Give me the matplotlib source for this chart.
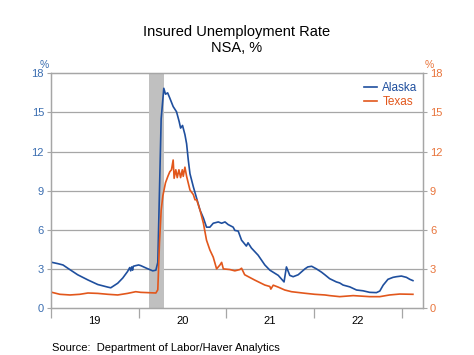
import numpy as np
import pandas as pd
import matplotlib
matplotlib.use("Agg")
import matplotlib.pyplot as plt
import matplotlib.dates as mdates

plt.rcParams['font.family'] = ['Liberation Sans', 'DejaVu Sans']

alaska_dates = ["2019-01-05", "2019-01-30", "2019-02-20", "2019-03-12", "2019-04-22", "2019-06-04",
                "2019-07-15", "2019-08-26", "2019-09-07", "2019-10-06", "2019-10-27", "2019-11-16",
                "2019-11-25", "2019-11-29", "2019-12-03", "2019-12-07", "2019-12-10", "2019-12-20",
                "2020-01-01", "2020-01-10", "2020-02-03", "2020-02-29", "2020-03-13", "2020-03-21",
                "2020-03-28", "2020-04-04", "2020-04-15", "2020-04-22", "2020-05-01", "2020-05-10",
                "2020-05-24", "2020-06-07", "2020-06-18", "2020-06-24", "2020-07-02", "2020-07-12",
                "2020-07-19", "2020-07-26", "2020-08-02", "2020-08-16", "2020-08-30", "2020-09-13",
                "2020-09-27", "2020-10-10", "2020-10-24", "2020-11-07", "2020-11-28", "2020-12-12",
                "2020-12-26", "2021-01-08", "2021-01-29", "2021-02-05", "2021-02-19", "2021-03-05",
                "2021-03-14", "2021-03-25", "2021-04-01", "2021-04-15", "2021-05-13", "2021-06-10",
                "2021-07-01", "2021-08-05", "2021-08-29", "2021-09-08", "2021-09-22", "2021-10-06",
                "2021-10-27", "2021-11-24", "2021-12-06", "2021-12-22", "2022-01-11", "2022-02-01",
                "2022-02-15", "2022-03-07", "2022-04-04", "2022-04-18", "2022-05-02", "2022-05-30",
                "2022-06-27", "2022-07-24", "2022-08-21", "2022-09-18", "2022-10-02", "2022-10-16",
                "2022-11-05", "2022-11-26", "2022-12-10", "2022-12-31", "2023-01-21", "2023-02-04",
                "2023-02-17"]
alaska = [3.5, 3.4, 3.3, 3.05, 2.55, 2.15,
          1.8, 1.6, 1.55, 1.9, 2.3, 2.8,
          3.1, 2.85, 3.15, 2.9, 3.2, 3.25,
          3.3, 3.25, 3.05, 2.85, 2.9, 3.5,
          9.0, 14.5, 16.85, 16.4, 16.5, 16.1,
          15.45, 15.05, 14.3, 13.8, 14.0, 13.3,
          12.6, 11.35, 10.3, 9.3, 8.4, 7.5,
          6.9, 6.2, 6.2, 6.5, 6.6, 6.5,
          6.6, 6.4, 6.2, 5.95, 5.9, 5.2,
          5.0, 4.75, 5.0, 4.6, 4.05, 3.3,
          2.9, 2.5, 2.0, 3.15, 2.5, 2.4,
          2.55, 3.0, 3.15, 3.2, 3.0, 2.75,
          2.55, 2.25, 2.0, 1.92, 1.76, 1.62,
          1.38, 1.32, 1.2, 1.18, 1.3, 1.75,
          2.2, 2.35, 2.4, 2.45, 2.35, 2.2,
          2.1]

texas_dates = ["2019-01-05", "2019-02-07", "2019-03-21", "2019-05-01", "2019-06-04", "2019-07-15",
               "2019-08-26", "2019-10-06", "2019-11-16", "2019-12-07", "2019-12-20", "2020-01-10",
               "2020-02-06", "2020-03-13", "2020-03-21", "2020-03-28", "2020-04-04", "2020-04-11",
               "2020-04-22", "2020-05-02", "2020-05-10", "2020-05-17", "2020-05-24", "2020-05-28",
               "2020-06-04", "2020-06-10", "2020-06-17", "2020-06-24", "2020-07-01", "2020-07-05",
               "2020-07-12", "2020-07-19", "2020-08-02", "2020-08-16", "2020-08-23", "2020-08-30",
               "2020-09-13", "2020-09-27", "2020-10-10", "2020-10-24", "2020-11-07", "2020-11-21",
               "2020-12-05", "2020-12-12", "2020-12-19", "2021-01-15", "2021-02-05", "2021-02-26",
               "2021-03-05", "2021-03-18", "2021-04-28", "2021-06-10", "2021-07-01", "2021-07-05",
               "2021-07-15", "2021-08-05", "2021-09-01", "2021-09-29", "2021-11-24", "2022-01-04",
               "2022-02-15", "2022-03-07", "2022-04-18", "2022-06-13", "2022-08-21", "2022-10-02",
               "2022-11-12", "2022-12-24", "2023-02-17"]
texas = [1.2, 1.05, 1.0, 1.05, 1.15, 1.12,
         1.05, 1.0, 1.12, 1.2, 1.25, 1.2,
         1.18, 1.15, 1.4, 5.0, 7.5, 8.6,
         9.6, 10.1, 10.45, 10.6, 11.35, 9.95,
         10.6, 10.0, 10.6, 10.0, 10.6, 10.1,
         10.8, 10.1, 9.05, 8.7, 8.3, 8.3,
         7.5, 6.5, 5.2, 4.45, 3.9, 3.0,
         3.3, 3.5, 3.0, 2.95, 2.85, 2.95,
         3.05, 2.55, 2.15, 1.76, 1.65, 1.45,
         1.75, 1.6, 1.38, 1.25, 1.13, 1.05,
         1.0, 0.95, 0.87, 0.95, 0.87, 0.87,
         1.0, 1.07, 1.05]

recession = ("2020-02-15", "2020-04-15")
year_labels = ["19", "20", "21", "22"]

blue = "#1f4f9e"
orange = "#e2571c"
blue_txt = "#3a6db0"
orange_txt = "#e8743b"
gray = "#a6a6a6"

fig = plt.figure(figsize=(4.74, 3.55), dpi=100)
ax = fig.add_axes([0.1076, 0.1324, 0.7848, 0.6611])
ax2 = ax.twinx()

ax.axvspan(pd.Timestamp(recession[0]), pd.Timestamp(recession[1]), color="#c0c0c0", lw=0, zorder=1)
for v in range(3, 18, 3):
    ax.axhline(v, color=gray, lw=0.9, zorder=0)

ax.plot(pd.to_datetime(alaska_dates), alaska, color=blue, lw=1.2, label="Alaska", zorder=3)
ax.plot(pd.to_datetime(texas_dates), texas, color=orange, lw=1.2, label="Texas", zorder=3)

xmin, xmax = pd.Timestamp("2019-01-01"), pd.Timestamp("2023-03-31")
ax.set_xlim(xmin, xmax)
ax.set_ylim(0, 18)
ax2.set_ylim(0, 18)
ax.set_yticks(range(0, 19, 3))
ax2.set_yticks(range(0, 19, 3))

# year boundary ticks, labels at mid-year
ax.set_xticks([pd.Timestamp(f"{y}-01-01") for y in range(2019, 2024)])
ax.set_xticklabels([])
ax.set_xticks([pd.Timestamp(f"20{y}-07-01") for y in year_labels], minor=True)
ax.set_xticklabels(year_labels, minor=True)
ax.tick_params(axis="x", which="major", length=7, width=0.9, color=gray, direction="out")
ax.tick_params(axis="x", which="minor", length=0, labelsize=8, pad=6)

ax.tick_params(axis="y", length=3, color=gray, labelsize=8, labelcolor=blue_txt, pad=2)
ax2.tick_params(axis="y", length=3, color=gray, labelsize=8, labelcolor=orange_txt, pad=2)

for a in (ax, ax2):
    for s in a.spines.values():
        s.set_color(gray)
        s.set_linewidth(0.9)

fig.text(0.093, 0.817, "%", color=blue_txt, fontsize=7.5, ha="center", va="center")
fig.text(0.905, 0.817, "%", color=orange_txt, fontsize=7.5, ha="center", va="center")

leg = ax.legend(loc="upper right", frameon=False, fontsize=8.5, handlelength=1.1,
                handletextpad=0.5, labelspacing=0.15, borderaxespad=0.05,
                bbox_to_anchor=(1.0, 0.985))
for txt, c in zip(leg.get_texts(), [blue, orange]):
    txt.set_color(c)

fig.text(0.5, 0.910, "Insured Unemployment Rate", ha="center", va="center", fontsize=10.5)
fig.text(0.5, 0.864, "NSA, %", ha="center", va="center", fontsize=10.5)
fig.text(0.109, 0.019, "Source:  Department of Labor/Haver Analytics", ha="left", va="center",
         fontsize=8)

fig.savefig("out.png", dpi=100)
